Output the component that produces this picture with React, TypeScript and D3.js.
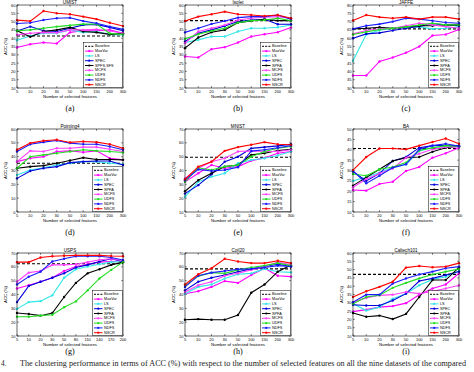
import * as d3 from "d3";

// x categories
const featTicks = ["5", "10", "20", "30", "50", "100", "150", "200", "300"];
const uspsTicks = ["5", "10", "20", "30", "50", "80", "110", "140", "170", "200"];

const seriesNames = ["MaxVar", "LS", "SPEC", "SPFA", "MCFS", "UDFS", "NDFS", "NSCR"];
const seriesColors = ["#ff00ff", "#33e6e6", "#0000d8", "#000000", "#ff40ff", "#22dd22", "#1a1aff", "#ff0000"];

const titles = ["UMIST", "Isolet", "JAFFE", "Pointing4", "MNIST", "BA", "USPS", "Coil20", "Caltech101"];
const letters = ["(a)", "(b)", "(c)", "(d)", "(e)", "(f)", "(g)", "(h)", "(i)"];
const baselines = [41.3, 50.6, 65.6, 35.2, 49.6, 40.6, 62.2, 58.5, 47.1];
const yDomains = [[10, 60], [10, 60], [30, 80], [0, 60], [10, 70], [10, 50], [10, 70], [10, 70], [10, 60]];
const yStepSizes = [5, 5, 5, 10, 10, 5, 10, 10, 5];

// values per panel, series in order of seriesNames
const umist = [
  [34.4, 36.4, 37.4, 36.8, 43.5, 44.5, 44.5, 45, 43],
  [38.8, 41.3, 43, 43, 45, 43.5, 44, 42.3, 41.9],
  [44.3, 47, 44.5, 44, 46, 48, 48.3, 46.5, 44.5],
  [44.5, 40.8, 44, 45, 46.5, 44, 43.5, 42.3, 42.9],
  [42, 43, 43.5, 43.3, 45, 45, 45.3, 44.3, 43],
  [44.5, 45, 46, 47, 47.7, 48.5, 48.5, 42.9, 42.3],
  [48.9, 49.3, 51, 52, 52.3, 50.3, 49, 47, 45.3],
  [50.9, 50.3, 56.4, 55, 54.4, 53, 51.5, 49.3, 47.3],
];
const isolet = [
  [29, 28.4, 33.4, 34.6, 37.4, 41, 42.4, 43.6, 46.4],
  [37.4, 39, 41, 41, 44, 46, 46, 46.6, 48],
  [38, 43, 45, 47.4, 50, 51, 51.4, 48.4, 48.4],
  [34, 40.4, 43.6, 45, 49.4, 50.4, 51.4, 50.6, 50.6],
  [37, 44, 46, 48, 51, 52, 52.6, 53, 52],
  [39.6, 42.4, 44.4, 46, 49.4, 50.6, 51, 52, 50.6],
  [43.5, 46, 48.6, 50.4, 52.4, 53, 53, 54, 51.5],
  [50.4, 53, 54.4, 56, 54.4, 54, 53.4, 54, 52],
];
const jaffe = [
  [37.5, 37.5, 46, 48.4, 51.3, 55, 61.6, 62.2, 65.2],
  [46.4, 62.2, 64.8, 66, 67, 66.8, 65.6, 66, 66.8],
  [60, 62.6, 63.2, 64.6, 66, 67, 68.7, 68, 67.5],
  [65.6, 66, 66.6, 66, 66.8, 67.5, 67.5, 68, 68],
  [62.6, 64.6, 65.6, 66, 67.5, 69, 68, 67, 66],
  [62.2, 63.8, 65.2, 66, 66.8, 68, 69, 68, 68],
  [65.6, 67.5, 68.5, 70, 72, 71.5, 70.5, 69.5, 69],
  [70.7, 74, 72.7, 72, 72.7, 71.5, 72.7, 72.7, 71.5],
];
const pointing4 = [
  [36.4, 38.9, 40, 43.7, 44.2, 43.2, 44.2, 38.9, 37.7],
  [26.7, 30.4, 32, 34, 35.2, 36.4, 36.4, 35.2, 34.5],
  [24.3, 29.6, 31.6, 32.8, 35.7, 36.4, 36.9, 36.9, 34],
  [31.6, 32.8, 33.5, 35.2, 37.2, 39.3, 38, 38, 37.7],
  [36.4, 44.2, 43.7, 46.1, 46.1, 46.9, 46.9, 45.4, 43.7],
  [31.6, 40, 41.3, 42.5, 43.7, 45, 44.2, 43.7, 43],
  [43.7, 49, 50.5, 51.7, 49.8, 49, 49, 47.4, 45],
  [45, 49.8, 51.5, 52.2, 50.3, 51, 50.5, 49, 46.1],
];
const mnist = [
  [31.8, 38, 44, 41.6, 42.8, 47, 49, 52.5, 53.7],
  [21, 31.8, 35.5, 38, 45.2, 47.6, 48.8, 50.8, 53.7],
  [23.3, 29.4, 37.2, 46.4, 50, 56, 56.9, 57.8, 59],
  [25, 33, 38, 42.8, 44, 51.3, 52.5, 54.4, 55.4],
  [34.3, 41.6, 46.4, 48.8, 53.7, 54.2, 53.7, 53.7, 55],
  [31.8, 42, 40.4, 42.8, 44, 50, 53.7, 56.1, 57.4],
  [33, 40.8, 39.6, 40.4, 42.3, 54, 55, 56.5, 58],
  [33.6, 42.8, 46.4, 54.2, 56.9, 58.6, 60.5, 59, 58.6],
];
const ba = [
  [20.6, 20.3, 23.5, 24.6, 29.8, 31.7, 36.2, 38.3, 41],
  [25, 26.7, 29, 31.4, 33, 39.4, 41, 41.7, 41.3],
  [29.5, 25, 28.6, 34.6, 36.5, 41, 42, 42.2, 42],
  [22.7, 26.7, 30.6, 34.6, 36.2, 36.5, 39, 41, 41.7],
  [21.9, 25.9, 28.6, 31, 36.2, 38.1, 40.2, 41.3, 41.3],
  [28.3, 27.5, 30.6, 31.7, 33.8, 39.7, 41, 42, 41.7],
  [29.8, 23.8, 27.5, 31.4, 33, 40.2, 42, 42.9, 41.7],
  [30.2, 36.5, 40.6, 40.6, 40.2, 42, 43.7, 45.4, 42.9],
];
const usps = [
  [44.3, 46.7, 49.2, 52.1, 57, 60.2, 61.9, 63.4, 63.9, 64.4],
  [29.6, 34.5, 35.2, 39.4, 52.1, 58.2, 60.2, 61.9, 63.4, 63.9],
  [34.5, 46.2, 49.2, 52.1, 55.3, 59.5, 61.4, 63.9, 65.8, 63.9],
  [26.6, 25.9, 24.7, 26.6, 38.2, 48.4, 55.3, 58.2, 61.4, 63.4],
  [49.2, 55.8, 57, 61.4, 61.4, 61.9, 63.4, 65.1, 65.8, 64.4],
  [23.9, 23.9, 24.7, 25.4, 30.8, 35, 43, 51.6, 57.8, 63.4],
  [47.2, 52.9, 56.5, 63.9, 65.8, 67.6, 67.6, 67.6, 66.8, 65],
  [63.4, 63.4, 66.8, 67.6, 68, 68.3, 68.3, 68.3, 67.8, 67.6],
];
const coil20 = [
  [40.6, 42.3, 45.5, 49.7, 48.4, 54.1, 59, 53.6, 52.9],
  [40.6, 45.5, 47.2, 51.6, 54.6, 55.3, 58.5, 56.5, 56],
  [43, 49.2, 52.1, 54.1, 56.5, 58.5, 60.2, 61.9, 60.2],
  [21.7, 22.2, 21.7, 21.7, 25.2, 41.3, 47.2, 56.5, 61.4],
  [41.8, 46.7, 49.2, 53.6, 55.3, 57.8, 60.2, 63.4, 61.4],
  [46.2, 53.3, 55.8, 55.3, 57.8, 59.5, 60.9, 62.7, 60.9],
  [45.5, 53.6, 55.8, 57, 58.2, 58.5, 59.5, 60.9, 60.2],
  [47.2, 54.6, 59, 65.8, 63.9, 62.7, 62.7, 64.4, 62.7],
];
const caltech101 = [
  [24.7, 25.9, 27.4, 28, 29.8, 34.9, 38.6, 41, 47.8],
  [29.4, 25.3, 27.4, 32.5, 35.5, 40.6, 44.1, 45.7, 49.2],
  [28.8, 28.4, 28.4, 31.4, 35.5, 43.1, 44.7, 46.7, 48.8],
  [23.9, 21.6, 22.3, 20.2, 23.3, 33.5, 43.7, 43.7, 51.4],
  [30.4, 32.9, 34.5, 34.9, 36.5, 35.5, 36.9, 38.6, 40.6],
  [29.4, 33.5, 34.5, 39, 42, 44.7, 47.1, 48.8, 50.4],
  [30.4, 34.9, 34.9, 41.6, 44.7, 47.1, 48.8, 50.8, 51.8],
  [33.5, 37, 39.6, 42.7, 51.2, 52.2, 51.4, 51.8, 53.9],
];

const panelValues = [umist, isolet, jaffe, pointing4, mnist, ba, usps, coil20, caltech101];

const colX = [17, 185, 353];
const rowY = [5, 129, 253];
const letterY = [108, 232, 351];
const plotW = 106;
const plotH = 83;
const font = "'Liberation Sans', Arial, sans-serif";
const serif = "'Liberation Serif', 'Times New Roman', serif";

const Panel = ({ idx }: { idx: number }) => {
  const x0 = colX[idx % 3];
  const y0 = rowY[Math.floor(idx / 3)];
  const ticks = idx === 6 ? uspsTicks : featTicks;
  const values = panelValues[idx];
  const [ymin, ymax] = yDomains[idx];

  const x = d3.scalePoint<string>().domain(ticks).range([x0, x0 + plotW]);
  const y = d3.scaleLinear().domain([ymin, ymax]).range([y0 + plotH, y0]);
  const yTicks = d3.range(ymin, ymax + 0.001, yStepSizes[idx]);

  const line = d3
    .line<number>()
    .x((_, i) => x(ticks[i]) as number)
    .y(d => y(d));

  const legendNames = ["Baseline", ...seriesNames.map(n => (n === "SPFA" && idx === 0 ? "SPFS-SFS" : n))];
  const legW = idx === 0 ? 39 : 30;
  const rowH = 4.8;
  const legH = legendNames.length * rowH + 1.6;
  const legX = x0 + plotW - legW - 0.5;
  const legY = y0 + plotH - legH - 0.5;

  return (
    <g>
      <text x={x0 + plotW / 2} y={y0 - 1.3} fontSize={4.6} fontFamily={font} textAnchor="middle">
        {titles[idx]}
      </text>
      {/* ticks */}
      {yTicks.map(t => (
        <g key={"y" + t}>
          <line x1={x0} x2={x0 + 1.8} y1={y(t)} y2={y(t)} stroke="#000" strokeWidth={0.5} />
          <line x1={x0 + plotW} x2={x0 + plotW - 1.8} y1={y(t)} y2={y(t)} stroke="#000" strokeWidth={0.5} />
          <text x={x0 - 1.5} y={y(t)} fontSize={4} fontFamily={font} textAnchor="end" dominantBaseline="central">
            {t}
          </text>
        </g>
      ))}
      {ticks.map(t => (
        <g key={"x" + t}>
          <line x1={x(t)} x2={x(t)} y1={y0 + plotH} y2={y0 + plotH - 1.8} stroke="#000" strokeWidth={0.5} />
          <line x1={x(t)} x2={x(t)} y1={y0} y2={y0 + 1.8} stroke="#000" strokeWidth={0.5} />
          <text x={x(t)} y={y0 + plotH + 5} fontSize={4} fontFamily={font} textAnchor="middle">
            {t}
          </text>
        </g>
      ))}
      <text x={x0 + plotW / 2} y={y0 + plotH + 10} fontSize={4.3} fontFamily={font} textAnchor="middle">
        Number of selected features
      </text>
      <text
        transform={`translate(${x0 - 10},${y0 + plotH / 2}) rotate(-90)`}
        fontSize={4.3}
        fontFamily={font}
        textAnchor="middle"
      >
        ACC (%)
      </text>
      {/* baseline */}
      <line
        x1={x0}
        x2={x0 + plotW}
        y1={y(baselines[idx])}
        y2={y(baselines[idx])}
        stroke="#000"
        strokeWidth={1.1}
        strokeDasharray="3,2"
      />
      {values.map((vals, s) => (
        <g key={s}>
          <path d={line(vals) || ""} fill="none" stroke={seriesColors[s]} strokeWidth={1.1} />
          {vals.map((v, i) => (
            <circle key={i} cx={x(ticks[i])} cy={y(v)} r={1.2} fill={seriesColors[s]} />
          ))}
        </g>
      ))}
      <rect x={x0} y={y0} width={plotW} height={plotH} fill="none" stroke="#000" strokeWidth={0.6} />
      {/* legend */}
      <rect x={legX} y={legY} width={legW} height={legH} fill="#fff" stroke="#000" strokeWidth={0.5} />
      {legendNames.map((n, i) => {
        const cy = legY + 1.2 + rowH * (i + 0.5);
        const col = i === 0 ? "#000" : seriesColors[i - 1];
        return (
          <g key={n}>
            <line
              x1={legX + 1.5}
              x2={legX + 10}
              y1={cy}
              y2={cy}
              stroke={col}
              strokeWidth={1}
              strokeDasharray={i === 0 ? "2,1.2" : undefined}
            />
            {i > 0 && <circle cx={legX + 5.75} cy={cy} r={1.1} fill={col} />}
            <text x={legX + 11.5} y={cy} fontSize={3.8} fontFamily={font} dominantBaseline="central">
              {n}
            </text>
          </g>
        );
      })}
      <text
        x={x0 + plotW / 2}
        y={letterY[Math.floor(idx / 3)]}
        fontSize={8}
        fontFamily={serif}
        textAnchor="middle"
        dominantBaseline="central"
      >
        {letters[idx]}
      </text>
    </g>
  );
};

export default function App() {
  return (
    <svg width={474} height={372} style={{ position: "absolute", left: 0, top: 0, background: "#fff" }}>
      <rect width={474} height={372} fill="#fff" />
      {titles.map((_, i) => (
        <Panel key={i} idx={i} />
      ))}
      <g transform="translate(0,366) scale(1,1.15)">
        <text x={1} y={0} fontSize={7.3} fontFamily={serif} fill="#222">
          4.
        </text>
        <text x={20} y={0} fontSize={7.3} fontFamily={serif} fill="#222" textLength={446} lengthAdjust="spacingAndGlyphs">
          The clustering performance in terms of ACC (%) with respect to the number of selected features on all the nine datasets of the compared
        </text>
      </g>
    </svg>
  );
}
